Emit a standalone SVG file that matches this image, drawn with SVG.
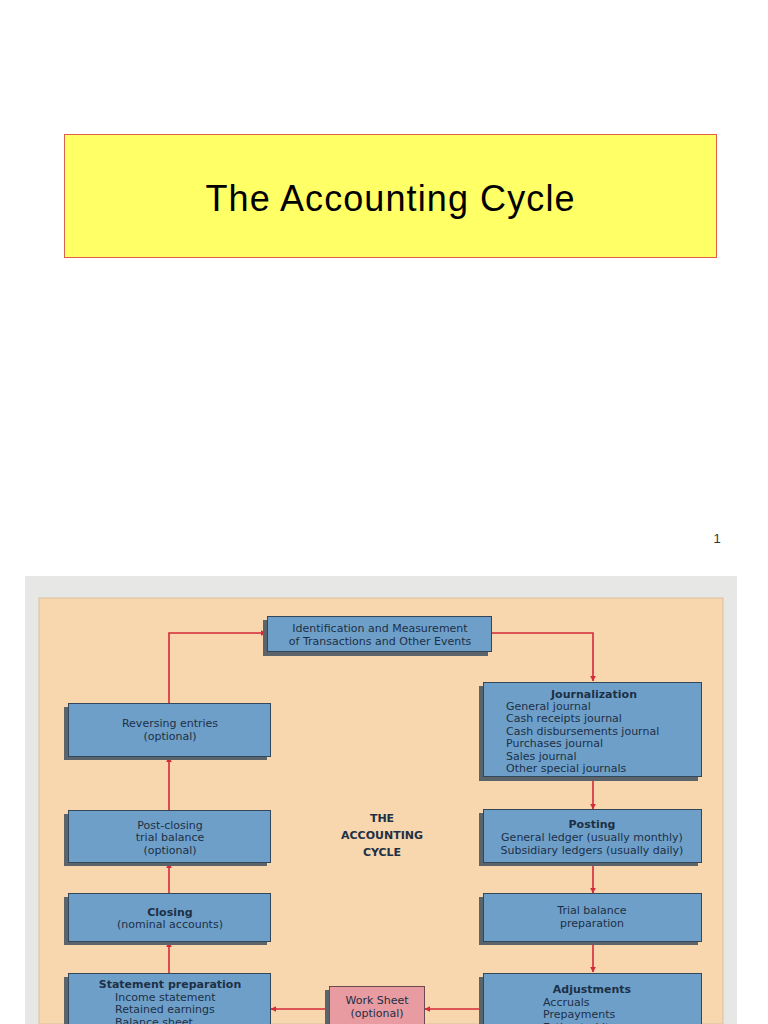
<svg xmlns="http://www.w3.org/2000/svg" width="768" height="1024" viewBox="0 0 768 1024">
<defs>
<style>
.box{fill:#6E9FC9;stroke:#34475a;stroke-width:1}
.sh{fill:#5b636b}
.ws{fill:#E89BA0;stroke:#6a4a50;stroke-width:1}
.t{font-family:"DejaVu Sans",sans-serif;font-size:11px;fill:#1d3045}
.c{text-anchor:middle}
.b{font-weight:bold}
.ln{fill:none;stroke:#D42A3A;stroke-width:1.6}
</style>
<marker id="ah" viewBox="0 0 10 10" refX="9" refY="5" markerWidth="6" markerHeight="6" orient="auto" markerUnits="userSpaceOnUse">
<path d="M0,0 L10,5 L0,10 z" fill="#D42A3A"/>
</marker>
</defs>
<rect width="768" height="1024" fill="#ffffff"/>
<g id="title">
<rect x="64.5" y="134.5" width="652" height="123" fill="#FFFF66" stroke="#E0604A" stroke-width="1"/>
<text x="390" y="211" font-family="Liberation Sans, Arial, sans-serif" font-size="36" text-anchor="middle" textLength="369" fill="#000">The Accounting Cycle</text>
</g>
<text id="pagenum" x="717" y="543" font-family="Liberation Sans, Arial, sans-serif" font-size="13" text-anchor="middle" fill="#333">1</text>
<g id="photo">
<rect x="25" y="576" width="712" height="448" fill="#E7E7E5"/>
<rect x="39" y="598" width="684" height="426" fill="#F8D6AE" stroke="#d8c0a0" stroke-width="1"/>
</g>
<g id="connectors">
<polyline class="ln" points="492,633 593,633 593,681" marker-end="url(#ah)"/>
<polyline class="ln" points="169,703 169,633 266,633" marker-end="url(#ah)"/>
<line class="ln" x1="169" y1="810" x2="169" y2="757" marker-end="url(#ah)"/>
<line class="ln" x1="169" y1="893" x2="169" y2="863" marker-end="url(#ah)"/>
<line class="ln" x1="169" y1="973" x2="169" y2="942" marker-end="url(#ah)"/>
<line class="ln" x1="593" y1="777" x2="593" y2="809" marker-end="url(#ah)"/>
<line class="ln" x1="593" y1="862" x2="593" y2="893" marker-end="url(#ah)"/>
<line class="ln" x1="593" y1="942" x2="593" y2="972" marker-end="url(#ah)"/>
<line class="ln" x1="483" y1="1009" x2="425" y2="1009" marker-end="url(#ah)"/>
<line class="ln" x1="329" y1="1009" x2="271" y2="1009" marker-end="url(#ah)"/>
</g>
<g id="identification">
<rect class="sh" x="263" y="620" width="225" height="36"/>
<rect class="box" x="267.5" y="616.5" width="224" height="35"/>
<text class="t c" x="380" y="632">Identification and Measurement</text>
<text class="t c" x="380" y="645">of Transactions and Other Events</text>
</g>
<g id="journalization">
<rect class="sh" x="479" y="686" width="219" height="95"/>
<rect class="box" x="483.5" y="682.5" width="218" height="94"/>
<text class="t c b" x="594" y="698">Journalization</text>
<text class="t" x="506" y="710">General journal</text>
<text class="t" x="506" y="722">Cash receipts journal</text>
<text class="t" x="506" y="735">Cash disbursements journal</text>
<text class="t" x="506" y="747">Purchases journal</text>
<text class="t" x="506" y="760">Sales journal</text>
<text class="t" x="506" y="772">Other special journals</text>
</g>
<g id="reversing">
<rect class="sh" x="64" y="707" width="203" height="53"/>
<rect class="box" x="68.5" y="703.5" width="202" height="53"/>
<text class="t c" x="170" y="727">Reversing entries</text>
<text class="t c" x="170" y="740">(optional)</text>
</g>
<g id="postclosing">
<rect class="sh" x="64" y="814" width="203" height="52"/>
<rect class="box" x="68.5" y="810.5" width="202" height="52"/>
<text class="t c" x="170" y="829">Post-closing</text>
<text class="t c" x="170" y="841">trial balance</text>
<text class="t c" x="170" y="854">(optional)</text>
</g>
<g id="posting">
<rect class="sh" x="479" y="813" width="219" height="53"/>
<rect class="box" x="483.5" y="809.5" width="218" height="53"/>
<text class="t c b" x="592" y="828">Posting</text>
<text class="t c" x="592" y="841">General ledger (usually monthly)</text>
<text class="t c" x="592" y="854">Subsidiary ledgers (usually daily)</text>
</g>
<g id="cyclelabel">
<text class="t c b" x="382" y="822" font-size="11.5" fill="#3a2e22">THE</text>
<text class="t c b" x="382" y="839" font-size="11.5" fill="#3a2e22">ACCOUNTING</text>
<text class="t c b" x="382" y="856" font-size="11.5" fill="#3a2e22">CYCLE</text>
</g>
<g id="closing">
<rect class="sh" x="64" y="897" width="203" height="48"/>
<rect class="box" x="68.5" y="893.5" width="202" height="48"/>
<text class="t c b" x="170" y="916">Closing</text>
<text class="t c" x="170" y="928">(nominal accounts)</text>
</g>
<g id="trialbalance">
<rect class="sh" x="479" y="897" width="219" height="48"/>
<rect class="box" x="483.5" y="893.5" width="218" height="48"/>
<text class="t c" x="592" y="914">Trial balance</text>
<text class="t c" x="592" y="927">preparation</text>
</g>
<g id="statement">
<rect class="sh" x="64" y="977" width="203" height="60"/>
<rect class="box" x="68.5" y="973.5" width="202" height="60"/>
<text class="t c b" x="170" y="988">Statement preparation</text>
<text class="t" x="115" y="1001">Income statement</text>
<text class="t" x="115" y="1013">Retained earnings</text>
<text class="t" x="115" y="1026">Balance sheet</text>
</g>
<g id="worksheet">
<rect class="sh" x="325" y="990" width="96" height="50"/>
<rect class="ws" x="329.5" y="986.5" width="95" height="50"/>
<text class="t c" x="377" y="1004">Work Sheet</text>
<text class="t c" x="377" y="1017">(optional)</text>
</g>
<g id="adjustments">
<rect class="sh" x="479" y="977" width="219" height="60"/>
<rect class="box" x="483.5" y="973.5" width="218" height="60"/>
<text class="t c b" x="592" y="993">Adjustments</text>
<text class="t" x="543" y="1006">Accruals</text>
<text class="t" x="543" y="1018">Prepayments</text>
<text class="t" x="543" y="1031">Estimated items</text>
</g>
</svg>
